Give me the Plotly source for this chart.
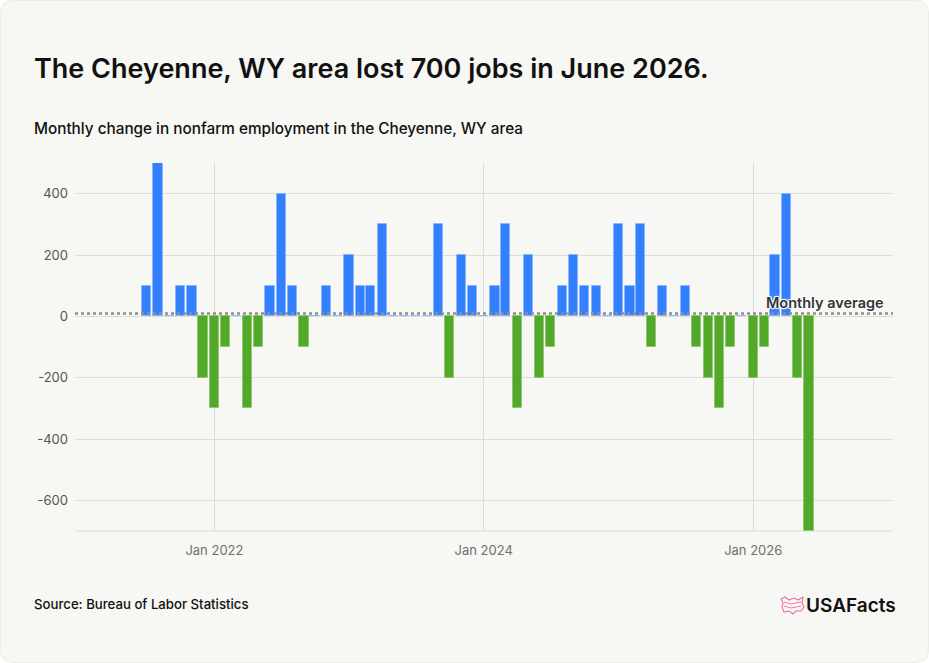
import plotly.graph_objects as go
import pandas as pd

# ---------------- data ----------------
months = pd.date_range("2021-07-01", "2026-06-01", freq="MS")
changes = [
    100, 500, 0, 100, 100, -200,                                  # Jul-Dec 2021
    -300, -100, 0, -300, -100, 100, 400, 100, -100, 0, 100, 0,     # 2022
    200, 100, 100, 300, 0, 0, 0, 0, 300, -200, 200, 100,           # 2023
    0, 100, 300, -300, 200, -200, -100, 100, 200, 100, 100, 0,     # 2024
    300, 100, 300, -100, 100, 0, 100, -100, -200, -300, -100, 0,   # 2025
    -200, -100, 200, 400, -200, -700,                              # Jan-Jun 2026
]
monthly_average = 9
y_tick_vals = [-600, -400, -200, 0, 200, 400]
y_tick_text = ["-600", "-400", "-200", "0", "200", "400"]
x_tick_vals = ["2022-01-01", "2024-01-01", "2026-01-01"]
x_tick_text = ["Jan 2022", "Jan 2024", "Jan 2026"]

title = "The Cheyenne, WY area lost 700 jobs in June 2026."
subtitle = "Monthly change in nonfarm employment in the Cheyenne, WY area"
source = "Source: Bureau of Labor Statistics"

# ---------------- layout geometry ----------------
W, H = 929, 663
L, R, T, B = 75, 36, 163, 132
PW, PH = W - L - R, H - T - B

def px(x):
    return (x - L) / PW

def py(y):
    return (H - B - y) / PH

BLUE = "#3380ff"
GREEN = "#52a828"
CARD = "#f7f7f3"
FONT = "Inter"

colors = [BLUE if v >= 0 else GREEN for v in changes]
line_colors = ["rgba(140,180,255,0.9)" if v >= 0 else "rgba(140,200,110,0.9)" for v in changes]

fig = go.Figure()
fig.add_trace(go.Bar(
    x=months, y=changes,
    marker=dict(color=colors, line=dict(color=line_colors, width=1)),
    width=25 * 24 * 3600 * 1000,
    hoverinfo="x+y",
))

# rounded card background
r = 13
x0, x1, y0, y1 = 0.5, W - 0.5, 0.5, H - 0.5
pts = [
    f"M {px(x0 + r)},{py(y0)}",
    f"L {px(x1 - r)},{py(y0)}",
    f"Q {px(x1)},{py(y0)} {px(x1)},{py(y0 + r)}",
    f"L {px(x1)},{py(y1 - r)}",
    f"Q {px(x1)},{py(y1)} {px(x1 - r)},{py(y1)}",
    f"L {px(x0 + r)},{py(y1)}",
    f"Q {px(x0)},{py(y1)} {px(x0)},{py(y1 - r)}",
    f"L {px(x0)},{py(y0 + r)}",
    f"Q {px(x0)},{py(y0)} {px(x0 + r)},{py(y0)}",
    "Z",
]
shapes = [dict(type="path", path=" ".join(pts), xref="paper", yref="paper",
               fillcolor=CARD, line=dict(color="#ececE6", width=1), layer="below")]

# monthly average dotted line
shapes.append(dict(type="line", xref="paper", yref="y", x0=0, x1=1,
                   y0=monthly_average, y1=monthly_average,
                   line=dict(color="#8f8f8f", width=2.5, dash="dot"), layer="above"))

# USAFacts flag-ish icon (pink outline)
ix, iy = 781, 597
icon = [(0, 2), (4, 0), (8, 3), (13, 1), (17, 3), (22, 0), (21, 6), (23, 10),
        (20, 14), (15, 14), (12, 17), (8, 14), (3, 15), (1, 10), (2, 6)]
ipath = "M " + " L ".join(f"{px(ix + a)},{py(iy + b)}" for a, b in icon) + " Z"
shapes.append(dict(type="path", path=ipath, xref="paper", yref="paper",
                   line=dict(color="#f06bb0", width=1.1), fillcolor="rgba(0,0,0,0)"))
for k in (5, 9):
    shapes.append(dict(type="path", xref="paper", yref="paper",
                       path=f"M {px(ix + 3)},{py(iy + k)} L {px(ix + 10)},{py(iy + k + 2)} L {px(ix + 20)},{py(iy + k)}",
                       line=dict(color="#f06bb0", width=0.9)))

annotations = [
    dict(text=title, xref="paper", yref="paper", x=px(32), y=py(68),
         xanchor="left", yanchor="middle", showarrow=False,
         font=dict(family=FONT, size=27, color="#111111", weight=600)),
    dict(text=subtitle, xref="paper", yref="paper", x=px(32), y=py(128),
         xanchor="left", yanchor="middle", showarrow=False,
         font=dict(family=FONT, size=15.3, color="#111111", weight=500)),
    dict(text=source, xref="paper", yref="paper", x=px(32), y=py(604),
         xanchor="left", yanchor="middle", showarrow=False,
         font=dict(family=FONT, size=13.2, color="#111111", weight=500)),
    dict(text="USAFacts", xref="paper", yref="paper", x=px(898), y=py(605),
         xanchor="right", yanchor="middle", showarrow=False,
         font=dict(family=FONT, size=19, color="#111111", weight=600)),
    dict(text="Monthly average", xref="paper", yref="y", x=px(886), y=monthly_average,
         xanchor="right", yanchor="bottom", yshift=1, showarrow=False,
         font=dict(family=FONT, size=14.5, color="#333333", weight=600,
                   shadow="1px 1px 1px white, -1px -1px 1px white, 1px -1px 1px white, -1px 1px 1px white")),
]

fig.update_layout(
    width=W, height=H,
    margin=dict(l=L, r=R, t=T, b=B),
    paper_bgcolor="white",
    plot_bgcolor="rgba(0,0,0,0)",
    showlegend=False,
    shapes=shapes,
    annotations=annotations,
    bargap=0,
    xaxis=dict(
        type="date",
        range=["2020-12-19", "2027-01-15"],
        tickvals=x_tick_vals, ticktext=x_tick_text,
        showgrid=True, gridcolor="#dcdcd8", gridwidth=1,
        zeroline=False, showline=False, ticks="",
        tickfont=dict(family=FONT, size=13, color="#707070"),
        ticklabelstandoff=10,
        fixedrange=True,
    ),
    yaxis=dict(
        range=[-700, 500],
        tickvals=y_tick_vals, ticktext=y_tick_text,
        showgrid=True, gridcolor="#dcdcd8", gridwidth=1,
        zeroline=False, showline=False, ticks="",
        tickfont=dict(family=FONT, size=13, color="#555555"),
        ticklabelstandoff=6,
        fixedrange=True,
    ),
    hovermode="closest",
)

# bottom boundary line of plot area
fig.add_shape(type="line", xref="paper", yref="paper", x0=0, x1=1, y0=0, y1=0,
              line=dict(color="#dcdcd8", width=1), layer="below")

fig.write_html("out.html")
